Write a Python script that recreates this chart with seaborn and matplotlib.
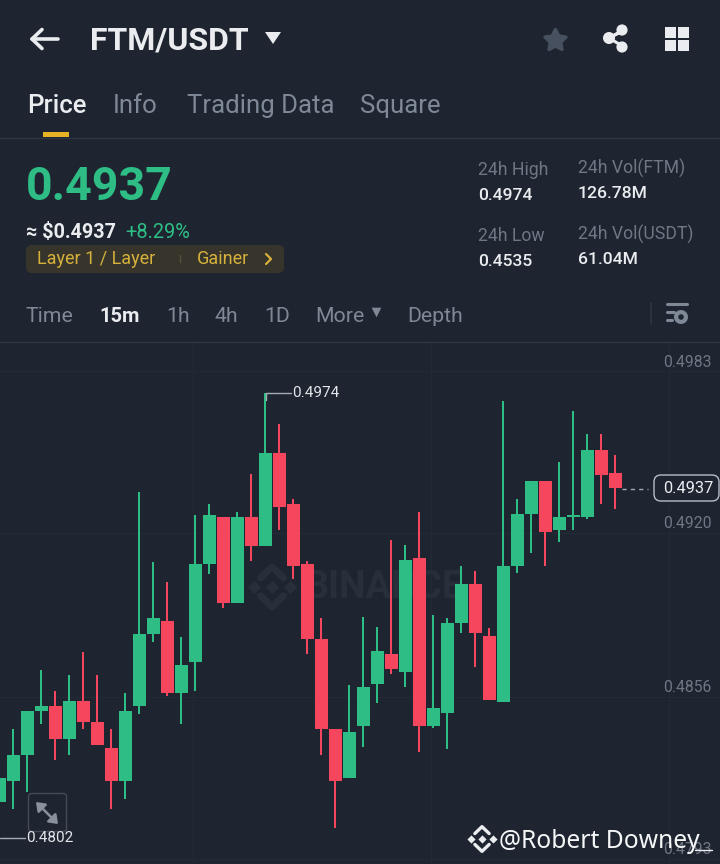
"""FTM/USDT 15m candlestick screen, drawn with seaborn bars on a dark app layout."""

import matplotlib.pyplot as plt
import numpy as np
import seaborn as sns
from matplotlib.patches import FancyBboxPatch, Polygon, Rectangle

# candle values, oldest first
OPENS = [
    0.48152, 0.48233, 0.48334, 0.48506, 0.48525, 0.48395, 0.48545, 0.48464, 0.48363, 0.48233,
    0.48525, 0.48806, 0.48857, 0.48575, 0.48697, 0.49079, 0.49261, 0.48928, 0.49261, 0.49151,
    0.49513, 0.49312, 0.49079, 0.48787, 0.48434, 0.48243, 0.48449, 0.48610, 0.48729, 0.48659,
    0.49103, 0.48449, 0.48499, 0.48850, 0.49002, 0.48800, 0.48540, 0.49073, 0.49273, 0.49404,
    0.49213, 0.49264, 0.49264, 0.49525, 0.49434,
]
CLOSES = [
    0.48243, 0.48333, 0.48506, 0.48525, 0.48395, 0.48545, 0.48464, 0.48374, 0.48233, 0.48506,
    0.48806, 0.48867, 0.48575, 0.48685, 0.49079, 0.49270, 0.48928, 0.49261, 0.49151, 0.49513,
    0.49301, 0.49070, 0.48787, 0.48434, 0.48233, 0.48423, 0.48599, 0.48740, 0.48670, 0.49093,
    0.48449, 0.48519, 0.48850, 0.49002, 0.48810, 0.48549, 0.49073, 0.49273, 0.49404, 0.49203,
    0.49262, 0.49272, 0.49525, 0.49425, 0.49374,
]
HIGHS = [
    0.48282, 0.48434, 0.48506, 0.48666, 0.48585, 0.48646, 0.48736, 0.48646, 0.48434, 0.48575,
    0.49361, 0.49088, 0.49009, 0.48796, 0.49270, 0.49312, 0.49261, 0.49281, 0.49431, 0.49746,
    0.49624, 0.49331, 0.49090, 0.48867, 0.48434, 0.48606, 0.48874, 0.48832, 0.49173, 0.49153,
    0.49283, 0.48882, 0.48870, 0.49073, 0.49053, 0.48831, 0.49716, 0.49333, 0.49404, 0.49404,
    0.49476, 0.49677, 0.49585, 0.49585, 0.49504,
]
LOWS = [
    0.48012, 0.48122, 0.48191, 0.48455, 0.48315, 0.48334, 0.48436, 0.48374, 0.48122, 0.48163,
    0.48495, 0.48776, 0.48566, 0.48455, 0.48585, 0.49039, 0.48909, 0.48928, 0.49090, 0.49151,
    0.49210, 0.49019, 0.48727, 0.48333, 0.48051, 0.48243, 0.48367, 0.48538, 0.48650, 0.48599,
    0.48346, 0.48438, 0.48356, 0.48810, 0.48679, 0.48549, 0.48540, 0.49043, 0.49122, 0.49071,
    0.49164, 0.49213, 0.49253, 0.49314, 0.49294,
]
PRICE_TICKS = [0.4983, 0.4920, 0.4856, 0.4793]
TIME_GRID = [13.8, 30.8, 47.8]

BG = "#1e2530"
GREEN = "#2ebd85"
RED = "#f6465d"
WHITE = "#eaecef"
GREY = "#7f8896"
DIM = "#6f7785"
YELLOW = "#d6b13c"
GRID = "#232a35"
LINE = "#2f3641"

W, H = 720, 864


def px_axes(fig, zorder):
    ax = fig.add_axes([0, 0, 1, 1], zorder=zorder)
    ax.set_xlim(0, W)
    ax.set_ylim(H, 0)
    ax.axis("off")
    return ax


def label(ax, x, y, text, color=WHITE, size=12, weight="normal", **kw):
    ax.text(x, y, text, color=color, fontsize=size, fontweight=weight, va="center", **kw)


def draw_logo(ax, cx, cy, s, color, lw):
    ax.plot([cx - .55 * s, cx, cx + .55 * s], [cy - .42 * s, cy - .95 * s, cy - .42 * s], color=color, lw=lw)
    ax.plot([cx - .55 * s, cx, cx + .55 * s], [cy + .42 * s, cy + .95 * s, cy + .42 * s], color=color, lw=lw)
    ax.scatter([cx - .85 * s, cx, cx + .85 * s], [cy, cy, cy], marker="D", s=(s * .32) ** 2, color=color, linewidths=0)


def draw_candles(ax, idx, opens, closes, highs, lows):
    rising = closes >= opens
    for mask, color in ((rising, GREEN), (~rising, RED)):
        sns.barplot(x=idx[mask], y=(highs - lows)[mask], bottom=lows[mask], width=0.15, color=color,
                    saturation=1, native_scale=True, errorbar=None, linewidth=0, ax=ax, zorder=3)
        sns.barplot(x=idx[mask], y=np.abs(closes - opens)[mask], bottom=np.minimum(opens, closes)[mask],
                    width=0.9, color=color, saturation=1, native_scale=True, errorbar=None,
                    linewidth=0, ax=ax, zorder=4)


def draw_chart(fig):
    ax = fig.add_axes([0, 0, 1, 522 / H], zorder=1)
    ax.patch.set_alpha(0)
    idx = np.arange(len(OPENS))
    draw_candles(ax, idx, np.array(OPENS), np.array(CLOSES), np.array(HIGHS), np.array(LOWS))

    ax.set_xlim(0.048, 0.048 + W / 14)
    ax.set_ylim(0.4920 - (H - 533) * 3.9e-5, 0.4920 + (533 - 342) * 3.9e-5)
    ax.set_xticks(TIME_GRID)
    ax.set_xticklabels([])
    ax.set_yticks(PRICE_TICKS)
    ax.set_yticklabels([])
    ax.tick_params(length=0)
    # price labels sit just above their grid lines, inside the right edge
    for p in PRICE_TICKS:
        ax.annotate(f"{p:.4f}", xy=(1, p), xycoords=ax.get_yaxis_transform(), xytext=(-41.2, 6.6),
                    textcoords="offset points", va="center", color=DIM, fontsize=11.3)
    ax.grid(True, color=GRID, lw=1)
    ax.set_axisbelow(True)
    ax.set_xlabel("")
    ax.set_ylabel("")
    sns.despine(ax=ax, left=True, bottom=True, right=True, top=True)
    return ax


def draw_header(ax):
    # top bar
    ax.plot([32, 58], [39, 39], color=WHITE, lw=2.6)
    ax.plot([42, 32, 42], [29.5, 39, 48.5], color=WHITE, lw=2.6)
    label(ax, 90, 40, "FTM/USDT", size=23, weight="bold")
    ax.add_patch(Polygon([(265, 32), (281, 32), (273, 44)], closed=True, color=WHITE, lw=0))
    ax.scatter([555], [39.5], marker=(5, 1), s=250, color="#47505f", edgecolors="#47505f", linewidths=2.5)
    ax.plot([609, 624, 609, 624], [38, 30, 38, 47], color=WHITE, lw=2.2)
    ax.scatter([609, 622, 622], [38, 30, 47], s=[75, 65, 65], color=WHITE, linewidths=0)
    for x, y in ((665, 27), (678, 27), (665, 40), (678, 40)):
        ax.add_patch(Rectangle((x, y), 10.5, 10.5, color=WHITE, lw=0))

    # tabs
    label(ax, 27, 106, "Price", size=18.5, weight="medium")
    label(ax, 113, 106, "Info", GREY, 18.5)
    label(ax, 187, 106, "Trading Data", GREY, 18.5)
    label(ax, 360, 106, "Square", GREY, 18.5)
    ax.add_patch(Rectangle((43, 132), 26, 5, color="#e6b325", lw=0))
    ax.plot([0, W], [137.5, 137.5], color=LINE, lw=1)
    ax.plot([0, W], [341.5, 341.5], color=LINE, lw=1)

    # price block
    label(ax, 26, 187.5, "0.4937", GREEN, 33.5, "bold")
    label(ax, 26, 233, "≈ $0.4937", WHITE, 14.2, "bold")
    label(ax, 125, 233, "+8.29%", GREEN, 14.4)
    ax.add_patch(FancyBboxPatch((31, 250), 248, 18, boxstyle="round,pad=5,rounding_size=6", fc="#37352b", ec="none"))
    label(ax, 37, 259.5, "Layer 1 / Layer", YELLOW, 13)
    ax.plot([180, 180], [255, 262], color="#55523f", lw=1)
    label(ax, 197, 259.5, "Gainer", YELLOW, 13)
    ax.plot([266, 271, 266], [254, 259, 264], color=YELLOW, lw=1.6)

    # 24h stats
    for x, y, text in ((478, 170, "24h High"), (478, 236, "24h Low"), (578, 168, "24h Vol(FTM)"), (578, 234, "24h Vol(USDT)")):
        label(ax, x, y, text, DIM, 12.7)
    for x, y, text in ((478, 196, "0.4974"), (478, 262, "0.4535"), (578, 194, "126.78M"), (578, 260, "61.04M")):
        label(ax, x, y, text, WHITE, 12.6, "medium")

    # interval row
    for x, text in ((26, "Time"), (166, "1h"), (214.5, "4h"), (264.5, "1D"), (315.5, "More"), (407, "Depth")):
        label(ax, x, 316, text, GREY, 15.3)
    label(ax, 99.5, 316, "15m", WHITE, 14.5, "bold")
    ax.scatter([376], [312], marker="v", s=48, color=GREY, linewidths=0)
    ax.plot([651, 651], [303, 324], color=LINE, lw=1.2)
    ax.plot([667, 687], [304, 304], color=GREY, lw=2.2)
    ax.plot([667, 674], [312, 312], color=GREY, lw=2.2)
    ax.plot([667, 672], [320, 320], color=GREY, lw=2.2)
    ax.scatter([681], [317], s=50, marker="o", facecolors="none", edgecolors=GREY, linewidths=3)


def draw_overlay(ax):
    # high, low and last price markers
    ax.plot([265.5, 265.5, 291], [400, 393, 393], color="#a7adb5", lw=1)
    label(ax, 292, 393, "0.4974", "#e3e6ea", 11)
    ax.plot([0, 25], [837.7, 837.7], color="#a7adb5", lw=1)
    label(ax, 26, 837.5, "0.4802", "#e3e6ea", 11)
    ax.plot([622, 648], [488.5, 488.5], color="#a7adb5", lw=1, ls=(0, (3, 3)))
    ax.add_patch(FancyBboxPatch((657, 478), 59, 20, boxstyle="round,pad=3,rounding_size=7", fc=BG, ec="#b7bdc6", lw=1))
    label(ax, 663, 488.5, "0.4937", WHITE, 11.8)

    # expand button
    ax.add_patch(FancyBboxPatch((30, 795), 35, 35, boxstyle="round,pad=1.5,rounding_size=3", fc=BG, ec="#4b525e", lw=1, alpha=.85))
    for start, end in (((47, 813), (36, 802)), ((47, 813), (58, 824))):
        ax.annotate("", xy=end, xytext=start, arrowprops=dict(arrowstyle="-|>,head_width=.3,head_length=.4", color="#8b919c", lw=1.8, shrinkA=0, shrinkB=0))

    # repost credit
    draw_logo(ax, 482, 839, 13, WHITE, 2.4)
    label(ax, 499, 841.5, "@Robert Downey", "#f5f6f7", 17.7, family="Noto Sans")
    ax.plot([695, 712], [849.5, 849.5], color=WHITE, lw=1)


def main():
    sns.set_theme(style="dark", rc={"figure.facecolor": BG, "axes.facecolor": BG})
    plt.rcParams["font.family"] = ["Roboto", "DejaVu Sans"]

    fig = plt.figure(figsize=(W / 100, H / 100), dpi=100)
    back = px_axes(fig, 0)
    draw_logo(back, 272, 587, 21, "#282f3a", 5)
    label(back, 305, 587, "BINANCE", "#282f3a", 27, "bold")
    draw_chart(fig)
    front = px_axes(fig, 2)
    draw_header(front)
    draw_overlay(front)
    fig.savefig("out.png", dpi=100, facecolor=BG)
    plt.close(fig)


if __name__ == "__main__":
    main()
